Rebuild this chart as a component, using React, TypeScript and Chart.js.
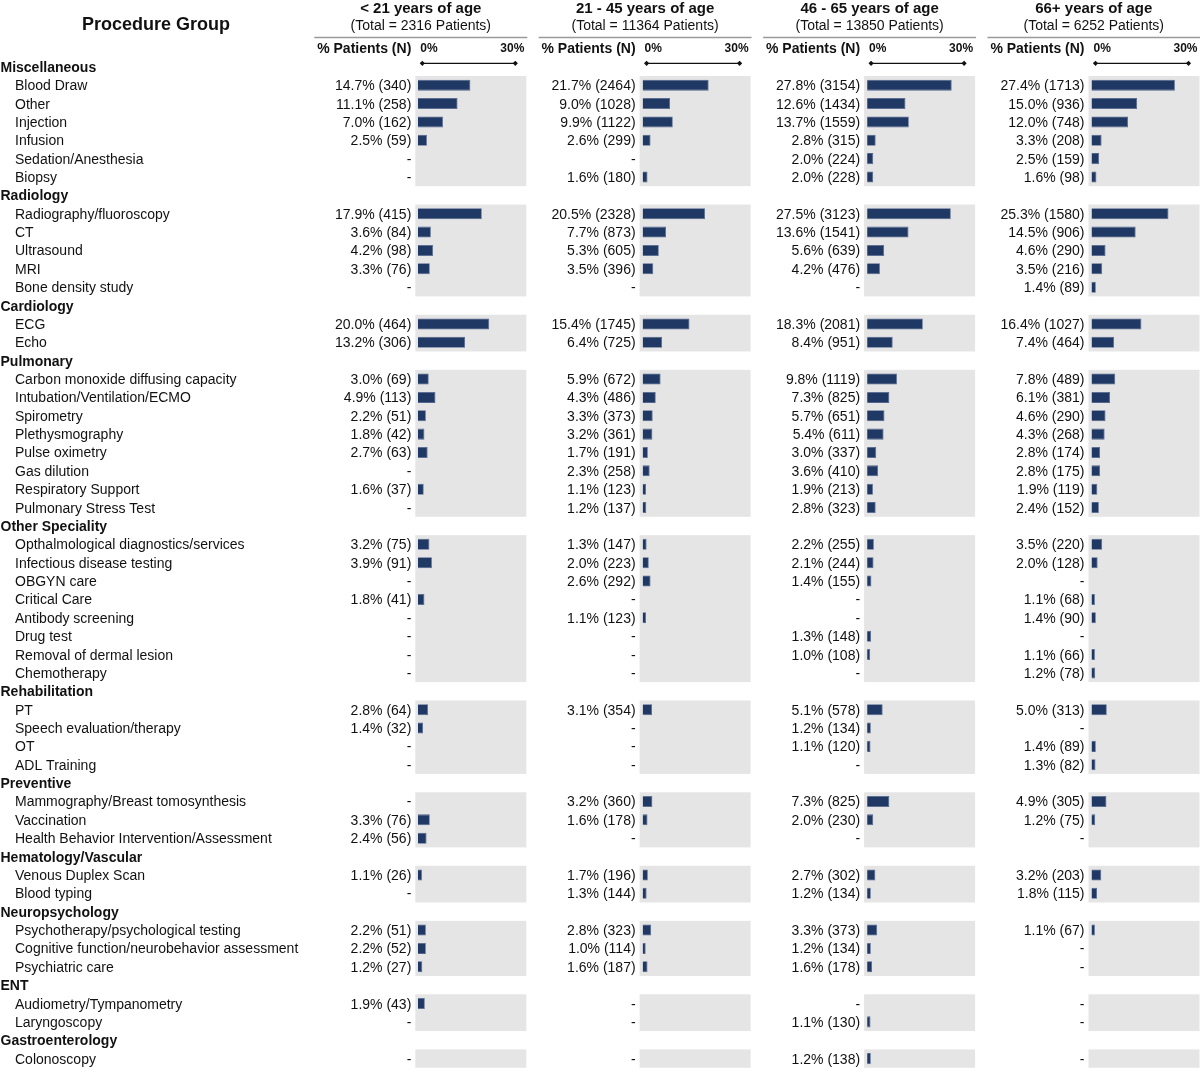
import { useEffect, useRef } from "react";
import { Chart, registerables } from "chart.js";

Chart.register(...registerables);

// ---------------- data ----------------
const tableTitle = "Procedure Group";
const valueHeader = "% Patients (N)";
const axisTickLabels = ["0%", "30%"];

const columnTitles = ["< 21 years of age", "21 - 45 years of age", "46 - 65 years of age", "66+ years of age"];
const columnTotals = [2316, 11364, 13850, 6252];

const groupNames = [
  "Miscellaneous", "Radiology", "Cardiology", "Pulmonary", "Other Speciality", "Rehabilitation",
  "Preventive", "Hematology/Vascular", "Neuropsychology", "ENT", "Gastroenterology",
];
const groupSizes = [6, 5, 2, 8, 8, 4, 3, 2, 3, 2, 1];

const procedures = [
  "Blood Draw", "Other", "Injection", "Infusion", "Sedation/Anesthesia", "Biopsy",
  "Radiography/fluoroscopy", "CT", "Ultrasound", "MRI", "Bone density study",
  "ECG", "Echo",
  "Carbon monoxide diffusing capacity", "Intubation/Ventilation/ECMO", "Spirometry", "Plethysmography",
  "Pulse oximetry", "Gas dilution", "Respiratory Support", "Pulmonary Stress Test",
  "Opthalmological diagnostics/services", "Infectious disease testing", "OBGYN care", "Critical Care",
  "Antibody screening", "Drug test", "Removal of dermal lesion", "Chemotherapy",
  "PT", "Speech evaluation/therapy", "OT", "ADL Training",
  "Mammography/Breast tomosynthesis", "Vaccination", "Health Behavior Intervention/Assessment",
  "Venous Duplex Scan", "Blood typing",
  "Psychotherapy/psychological testing", "Cognitive function/neurobehavior assessment", "Psychiatric care",
  "Audiometry/Tympanometry", "Laryngoscopy",
  "Colonoscopy",
];

const under21Pct = [
  14.7, 11.1, 7.0, 2.5, null, null,
  17.9, 3.6, 4.2, 3.3, null,
  20.0, 13.2,
  3.0, 4.9, 2.2, 1.8, 2.7, null, 1.6, null,
  3.2, 3.9, null, 1.8, null, null, null, null,
  2.8, 1.4, null, null,
  null, 3.3, 2.4,
  1.1, null,
  2.2, 2.2, 1.2,
  1.9, null,
  null,
];
const under21N = [
  340, 258, 162, 59, null, null,
  415, 84, 98, 76, null,
  464, 306,
  69, 113, 51, 42, 63, null, 37, null,
  75, 91, null, 41, null, null, null, null,
  64, 32, null, null,
  null, 76, 56,
  26, null,
  51, 52, 27,
  43, null,
  null,
];

const age21to45Pct = [
  21.7, 9.0, 9.9, 2.6, null, 1.6,
  20.5, 7.7, 5.3, 3.5, null,
  15.4, 6.4,
  5.9, 4.3, 3.3, 3.2, 1.7, 2.3, 1.1, 1.2,
  1.3, 2.0, 2.6, null, 1.1, null, null, null,
  3.1, null, null, null,
  3.2, 1.6, null,
  1.7, 1.3,
  2.8, 1.0, 1.6,
  null, null,
  null,
];
const age21to45N = [
  2464, 1028, 1122, 299, null, 180,
  2328, 873, 605, 396, null,
  1745, 725,
  672, 486, 373, 361, 191, 258, 123, 137,
  147, 223, 292, null, 123, null, null, null,
  354, null, null, null,
  360, 178, null,
  196, 144,
  323, 114, 187,
  null, null,
  null,
];

const age46to65Pct = [
  27.8, 12.6, 13.7, 2.8, 2.0, 2.0,
  27.5, 13.6, 5.6, 4.2, null,
  18.3, 8.4,
  9.8, 7.3, 5.7, 5.4, 3.0, 3.6, 1.9, 2.8,
  2.2, 2.1, 1.4, null, null, 1.3, 1.0, null,
  5.1, 1.2, 1.1, null,
  7.3, 2.0, null,
  2.7, 1.2,
  3.3, 1.2, 1.6,
  null, 1.1,
  1.2,
];
const age46to65N = [
  3154, 1434, 1559, 315, 224, 228,
  3123, 1541, 639, 476, null,
  2081, 951,
  1119, 825, 651, 611, 337, 410, 213, 323,
  255, 244, 155, null, null, 148, 108, null,
  578, 134, 120, null,
  825, 230, null,
  302, 134,
  373, 134, 178,
  null, 130,
  138,
];

const age66plusPct = [
  27.4, 15.0, 12.0, 3.3, 2.5, 1.6,
  25.3, 14.5, 4.6, 3.5, 1.4,
  16.4, 7.4,
  7.8, 6.1, 4.6, 4.3, 2.8, 2.8, 1.9, 2.4,
  3.5, 2.0, null, 1.1, 1.4, null, 1.1, 1.2,
  5.0, null, 1.4, 1.3,
  4.9, 1.2, null,
  3.2, 1.8,
  1.1, null, null,
  null, null,
  null,
];
const age66plusN = [
  1713, 936, 748, 208, 159, 98,
  1580, 906, 290, 216, 89,
  1027, 464,
  489, 381, 290, 268, 174, 175, 119, 152,
  220, 128, null, 68, 90, null, 66, 78,
  313, null, 89, 82,
  305, 75, null,
  203, 115,
  67, null, null,
  null, null,
  null,
];

const columnPct = [under21Pct, age21to45Pct, age46to65Pct, age66plusPct];
const columnN = [under21N, age21to45N, age46to65N, age66plusN];

// ---------------- layout / style ----------------
const W = 1200;
const H = 1068;
const FONT = "'Liberation Sans', Arial, Helvetica, sans-serif";
const TEXT = "#111111";
const BAR = "#1f3864";
const BAR_EDGE = "#51648c";
const PANEL = "#e5e5e5";
const PANEL_LEFT = [415.3, 639.6, 864.1, 1088.5];
const PANEL_W = 111;
const X_MIN = [-0.76, -1.0, -1.0, -1.0];
const X_MAX = [30.4, 35.5, 35.5, 35.5];
const AREA_TOP = 57.6;
const AREA_BOTTOM = 1067.8;

type Row = { label: string; group: boolean; item: number; groupIdx: number };

function buildRows(): Row[] {
  const rows: Row[] = [];
  let item = 0;
  groupNames.forEach((g, gi) => {
    rows.push({ label: g, group: true, item: -1, groupIdx: gi });
    for (let i = 0; i < groupSizes[gi]; i++) {
      rows.push({ label: procedures[item], group: false, item, groupIdx: gi });
      item++;
    }
  });
  return rows;
}

const rows = buildRows();

function makeConfig(k: number): any {
  const pct = columnPct[k];
  const nn = columnN[k];
  const left = PANEL_LEFT[k];
  const right = Math.min(W, left + PANEL_W);
  const values = rows.map((r) => (r.group ? null : pct[r.item]));

  const tablePlugin = {
    id: "tablePlugin" + k,
    beforeDatasetsDraw(chart: any) {
      const ctx = chart.ctx;
      const ys = chart.scales.y;
      const area = chart.chartArea;
      const half = (area.bottom - area.top) / rows.length / 2;
      ctx.save();
      ctx.fillStyle = PANEL;
      rows.forEach((r, i) => {
        if (!r.group) return;
        const first = i + 1;
        const last = i + groupSizes[r.groupIdx];
        const top = ys.getPixelForValue(first) - half;
        const bottom = ys.getPixelForValue(last) + half;
        ctx.fillRect(area.left, top, area.right - area.left, bottom - top);
      });
      ctx.restore();
    },
    afterDatasetsDraw(chart: any) {
      const ctx = chart.ctx;
      const ys = chart.scales.y;
      const area = chart.chartArea;
      ctx.save();
      ctx.fillStyle = TEXT;
      ctx.textBaseline = "alphabetic";

      // column header
      const lineL = area.left - 101;
      const lineR = Math.min(W, area.right + 1);
      const cx = (lineL + lineR) / 2;
      ctx.textAlign = "center";
      ctx.font = `bold 15px ${FONT}`;
      ctx.fillText(columnTitles[k], cx, 13);
      ctx.font = `14px ${FONT}`;
      ctx.fillText(`(Total = ${columnTotals[k]} Patients)`, cx, 30);
      ctx.strokeStyle = "#9a9a9a";
      ctx.lineWidth = 1.6;
      ctx.beginPath();
      ctx.moveTo(lineL, 37.5);
      ctx.lineTo(lineR, 37.5);
      ctx.stroke();

      ctx.textAlign = "right";
      ctx.font = `bold 14px ${FONT}`;
      ctx.fillText(valueHeader, area.left - 4, 53);

      ctx.font = `bold 12px ${FONT}`;
      ctx.textAlign = "left";
      ctx.fillText(axisTickLabels[0], area.left + 5, 52);
      ctx.textAlign = "right";
      ctx.fillText(axisTickLabels[1], area.right - 2, 52);

      // axis line with diamond ends
      const ax0 = area.left + 7;
      const ax1 = area.left + 100;
      const ay = 63.3;
      ctx.strokeStyle = "#111";
      ctx.lineWidth = 1.2;
      ctx.beginPath();
      ctx.moveTo(ax0, ay);
      ctx.lineTo(ax1, ay);
      ctx.stroke();
      [ax0, ax1].forEach((x) => {
        ctx.beginPath();
        ctx.moveTo(x, ay - 2.6);
        ctx.lineTo(x + 2.6, ay);
        ctx.lineTo(x, ay + 2.6);
        ctx.lineTo(x - 2.6, ay);
        ctx.closePath();
        ctx.fillStyle = "#111";
        ctx.fill();
      });

      // values
      ctx.fillStyle = TEXT;
      ctx.font = `14px ${FONT}`;
      ctx.textAlign = "right";
      rows.forEach((r, i) => {
        if (r.group) return;
        const y = ys.getPixelForValue(i) + 5;
        const p = pct[r.item];
        const n = nn[r.item];
        const txt = p == null ? "-" : `${p.toFixed(1)}% (${n})`;
        ctx.fillText(txt, area.left - 4, y);
      });

      // row labels (first column only)
      if (k === 0) {
        ctx.textAlign = "center";
        ctx.font = `bold 18px ${FONT}`;
        ctx.fillText(tableTitle, 156, 30);
        ctx.textAlign = "left";
        rows.forEach((r, i) => {
          const y = ys.getPixelForValue(i) + 5;
          if (r.group) {
            ctx.font = `bold 14px ${FONT}`;
            ctx.fillText(r.label, 0.5, y);
          } else {
            ctx.font = `14px ${FONT}`;
            ctx.fillText(r.label, 15, y);
          }
        });
      }
      ctx.restore();
    },
  };

  return {
    type: "bar",
    data: {
      labels: rows.map((r) => r.label),
      datasets: [
        {
          data: values,
          backgroundColor: BAR,
          borderColor: BAR_EDGE,
          borderWidth: 0.8,
          barPercentage: 0.6,
          categoryPercentage: 1,
        },
      ],
    },
    options: {
      animation: false,
      responsive: false,
      indexAxis: "y",
      layout: {
        padding: { left, right: W - right, top: AREA_TOP, bottom: H - AREA_BOTTOM },
      },
      scales: {
        x: { type: "linear", display: false, min: X_MIN[k], max: X_MAX[k] },
        y: { type: "category", display: false, offset: true, grid: { display: false } },
      },
      plugins: {
        legend: { display: false },
        tooltip: { enabled: false },
        title: { display: false },
      },
    },
    plugins: [tablePlugin],
  };
}

export default function App() {
  const canvasRefs = useRef<(HTMLCanvasElement | null)[]>([]);

  useEffect(() => {
    document.body.style.margin = "0";
    document.body.style.background = "#ffffff";
    const charts: Chart[] = [];
    for (let k = 0; k < 4; k++) {
      const c = canvasRefs.current[k];
      if (c) charts.push(new Chart(c, makeConfig(k)));
    }
    return () => charts.forEach((c) => c.destroy());
  }, []);

  return (
    <div style={{ position: "relative", width: W, height: H, background: "#fff", overflow: "hidden" }}>
      {[0, 1, 2, 3].map((k) => (
        <div key={k} style={{ position: "absolute", left: 0, top: 0, width: W, height: H }}>
          <canvas
            ref={(el) => {
              canvasRefs.current[k] = el;
            }}
            width={W}
            height={H}
            style={{ display: "block", width: W, height: H }}
          />
        </div>
      ))}
    </div>
  );
}
